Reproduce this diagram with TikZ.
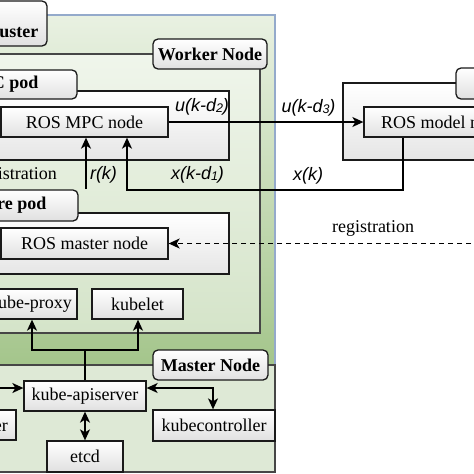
\documentclass[tikz,border=0pt]{standalone}
\usepackage{fontspec}
\setmainfont{Liberation Serif}
\newfontfamily\sigfont{Liberation Sans}
\usetikzlibrary{arrows.meta}
\definecolor{clustop}{RGB}{233,241,226}
\definecolor{clusbot}{RGB}{143,184,113}
\definecolor{clusline}{RGB}{148,170,203}
\definecolor{masterfill}{RGB}{222,233,214}
\definecolor{boxline}{RGB}{26,26,26}
\definecolor{greyline}{RGB}{70,70,70}
\newcommand{\lowsub}[1]{\raisebox{-0.5pt}{\fontsize{12.5}{12}\selectfont #1}}
\begin{document}
\begin{tikzpicture}[x=1pt,y=-1pt,
  txt/.style={font=\fontsize{18}{20}\selectfont, inner sep=0pt},
  sig/.style={font=\fontsize{18}{20}\selectfont\sigfont\itshape, inner sep=0pt},
  box/.style={draw=boxline, line width=1.3pt, top color=white, bottom color=black!12,
     minimum height=30pt, inner sep=0pt, font=\fontsize{18}{20}\selectfont},
  podbox/.style={draw=boxline, line width=1.3pt, top color=white, bottom color=black!10,
     inner sep=0pt},
  lblbox/.style={box, rounded corners=5pt, font=\fontsize{18}{20}\selectfont\bfseries},
  arr/.style={-{Stealth[length=11pt,width=10pt,inset=3pt]}, line width=1.4pt},
  arrboth/.style={{Stealth[length=11pt,width=10pt,inset=3pt]}-{Stealth[length=11pt,width=10pt,inset=3pt]}, line width=1.4pt}
]
\useasboundingbox (0,0) rectangle (474,474);
\clip (0,0) rectangle (474,474);
\fill[white] (0,0) rectangle (474,474);

% cluster
\node[draw=clusline, line width=1.2pt, top color=clustop, bottom color=clusbot,
      minimum width=395pt, minimum height=457pt, inner sep=0pt] (cluster) at (77.5,243.5) {};
\node[lblbox, minimum width=87pt, minimum height=45pt] (cluslbl) at (3.5,23.5) {};
\node[txt, font=\fontsize{18}{20}\selectfont\bfseries, anchor=east] (clustxt) at (38.5,31) {Cluster};

% worker node
\node[draw=greyline, line width=1.2pt, fill=white, fill opacity=0.5,
      minimum width=360pt, minimum height=279pt, inner sep=0pt] (worker) at (80,193.5) {};

% master node
\node[draw=greyline, line width=1.2pt, fill=masterfill,
      minimum width=375pt, minimum height=107pt, inner sep=0pt] (masterbox) at (87.5,418.5) {};

% MPC pod
\node[podbox, minimum width=309pt, minimum height=69pt] (mpcpod) at (74.5,125.5) {};
\node[lblbox, minimum width=152pt, minimum height=29pt] (mpclbl) at (1,84.5) {};
\node[txt, font=\fontsize{18}{20}\selectfont\bfseries, anchor=east] (mpclbltxt) at (38.5,84.5) {MPC pod};
\node[box, minimum width=167pt] (mpc) at (84.5,122) {ROS MPC node};

% core pod
\node[podbox, minimum width=309pt, minimum height=61pt] (corepod) at (74.5,243.5) {};
\node[lblbox, minimum width=172pt, minimum height=31pt] (corelbl) at (-8,205.5) {};
\node[txt, font=\fontsize{18}{20}\selectfont\bfseries, anchor=east] (corelbltxt) at (46.5,205.5) {ROS core pod};
\node[box, minimum width=167pt, minimum height=31pt] (rosmaster) at (84.5,243.5) {ROS master node};

% model pod
\node[podbox, minimum width=217pt, minimum height=77pt] (modelpod) at (451.5,121.5) {};
\node[lblbox, minimum width=104pt, minimum height=31pt] (modellbl) at (508,83.5) {};
\node[box, minimum width=158pt] (model) at (443,122) {ROS model node};

% worker components
\node[box, minimum width=93pt] (proxy) at (30.5,304) {kube-proxy};
\node[box, minimum width=91pt] (kubelet) at (137.5,304) {kubelet};

% master components
\node[box, minimum width=122pt] (api) at (85,396) {kube-apiserver};
\node[box, minimum width=126pt] (sched) at (-47,425) {kube-scheduler};
\node[box, minimum width=122pt, minimum height=31pt] (ctrl) at (214,425.5) {kubecontroller};
\node[box, minimum width=76pt, minimum height=31pt] (etcd) at (85,456.5) {etcd};

% labels on frames
\node[lblbox, minimum width=114pt] (workerlbl) at (210,54) {Worker Node};
\node[lblbox, minimum width=115pt] (masterlbl) at (210.5,365) {Master Node};

% signals
\draw[arr] (mpc.east) -- (model.west);
\node[sig] (u2) at (202,107) {u(k-d\lowsub{2})};
\node[sig] (u3) at (308.5,108) {u(k-d\lowsub{3})};

\coordinate (rk) at (86,189);
\draw[arr] (rk) -- (rk |- mpc.south);
\node[sig] (rklbl) at (103.5,175) {r(k)};

\coordinate (xa) at (403,190);
\coordinate (xb) at (127,190);
\draw[arr] (model.south -| xa) -- (xa) -- (xb) -- (xb |- mpc.south);
\node[sig] (xd1) at (197.5,175) {x(k-d\lowsub{1})};
\node[sig] (xk) at (308,176) {x(k)};

\node[txt, anchor=east] (regleft) at (57,175) {registration};

\coordinate (regR) at (480,243.5);
\draw[arr, dash pattern=on 5pt off 4pt] (regR) -- (rosmaster.east);
\node[txt] (reglbl) at (373,228) {registration};

% kube connections
\coordinate (pj) at (32,350);
\coordinate (kj) at (138,350);
\draw[line width=1.4pt] (api.north) -- (api.north |- pj);
\draw[arr] (api.north |- pj) -- (pj) -- (pj |- proxy.south);
\draw[arr] (api.north |- kj) -- (kj) -- (kj |- kubelet.south);

\coordinate (sl) at (-5,388);
\draw[arr] (sl) -- (sl -| api.west);

\coordinate (cj) at (213,388);
\draw[arrboth] (api.east |- cj) -- (cj) -- (cj |- ctrl.north);

\draw[arrboth] (api.south) -- (etcd.north);
\end{tikzpicture}
\end{document}
